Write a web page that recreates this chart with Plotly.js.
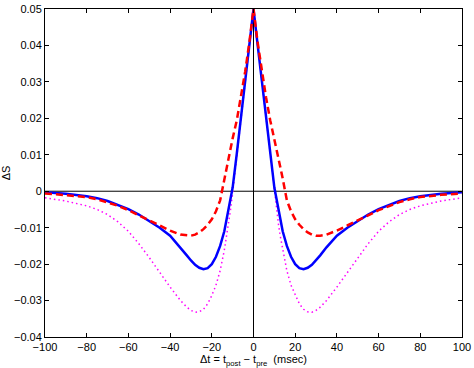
<!DOCTYPE html>
<html>
<head>
<meta charset="utf-8">
<script src="https://cdn.plot.ly/plotly-3.0.1.min.js"></script>
<style>html,body{margin:0;padding:0;background:#fff;}#chart{width:474px;height:368px;}</style>
</head>
<body>
<div id="chart"></div>
<script>
// Time difference (msec)
var dt = [-100,-90,-80,-75,-70,-65,-60,-55,-50,-45,-40,-35,-32,-30,-28,-26,-24,-22,-20,-18,-16,-14,-13,-12,-11,-10,-8,-6,-4,-2,0,
          2,4,6,8,10,11,12,13,14,16,18,20,22,24,26,28,30,32,35,40,45,50,55,60,65,70,75,80,90,100];

// Blue solid curve
var blueS = [-0.0003,-0.0007,-0.0014,-0.0019,-0.0027,-0.0037,-0.0049,-0.0064,-0.0081,-0.0100,-0.0122,-0.0154,-0.0176,-0.0190,-0.0202,-0.0210,-0.0214,-0.0211,-0.0200,-0.0180,-0.0150,-0.0110,-0.0080,-0.0050,-0.0020,0.0010,0.0104,0.0203,0.0302,0.0401,0.0500,
             0.0401,0.0302,0.0203,0.0104,0.0010,-0.0020,-0.0050,-0.0080,-0.0110,-0.0150,-0.0180,-0.0200,-0.0211,-0.0214,-0.0210,-0.0202,-0.0190,-0.0176,-0.0154,-0.0122,-0.0100,-0.0081,-0.0064,-0.0049,-0.0037,-0.0027,-0.0019,-0.0014,-0.0007,-0.0003];

// Red dashed curve
var redS = [-0.0006,-0.0010,-0.0016,-0.0022,-0.0030,-0.0040,-0.0052,-0.0066,-0.0081,-0.0094,-0.0108,-0.0119,-0.0122,-0.0122,-0.0119,-0.0113,-0.0104,-0.0092,-0.0077,-0.0055,-0.0025,0.0035,0.0062,0.0090,0.0117,0.0145,0.0195,0.0258,0.0328,0.0408,0.0500,
            0.0408,0.0328,0.0258,0.0195,0.0145,0.0117,0.0090,0.0062,0.0035,-0.0025,-0.0055,-0.0077,-0.0092,-0.0104,-0.0113,-0.0119,-0.0122,-0.0122,-0.0119,-0.0108,-0.0094,-0.0081,-0.0066,-0.0052,-0.0040,-0.0030,-0.0022,-0.0016,-0.0010,-0.0006];

// Magenta dotted curve
var magS = [-0.0018,-0.0027,-0.0040,-0.0050,-0.0064,-0.0084,-0.0110,-0.0144,-0.0182,-0.0223,-0.0263,-0.0300,-0.0318,-0.0327,-0.0332,-0.0331,-0.0324,-0.0309,-0.0286,-0.0258,-0.0218,-0.0162,-0.0128,-0.0092,-0.0050,-0.0005,0.0100,0.0200,0.0300,0.0400,0.0500,
            0.0400,0.0300,0.0200,0.0100,-0.0005,-0.0050,-0.0092,-0.0128,-0.0162,-0.0218,-0.0258,-0.0286,-0.0309,-0.0324,-0.0331,-0.0332,-0.0327,-0.0318,-0.0300,-0.0263,-0.0223,-0.0182,-0.0144,-0.0110,-0.0084,-0.0064,-0.0050,-0.0040,-0.0027,-0.0018];

var xTicks = [-100,-80,-60,-40,-20,0,20,40,60,80,100];
var yTicks = [-0.04,-0.03,-0.02,-0.01,0,0.01,0.02,0.03,0.04,0.05];
var xTickText = ['\u2212100','\u221280','\u221260','\u221240','\u221220','0','20','40','60','80','100'];
var yTickText = ['\u22120.04','\u22120.03','\u22120.02','\u22120.01','0','0.01','0.02','0.03','0.04','0.05'];

var traces = [
  {x: dt, y: magS, mode: 'lines', line: {color: '#ff00ff', width: 1.5, dash: '1.5px,3px'}, hoverinfo: 'none'},
  {x: dt, y: blueS, mode: 'lines', line: {color: '#0000ff', width: 2.5}, hoverinfo: 'none'},
  {x: dt, y: redS, mode: 'lines', line: {color: '#ff0000', width: 2.5, dash: '7px,4px'}, hoverinfo: 'none'}
];

var axisFont = {family: 'Liberation Sans, Arial, sans-serif', size: 11, color: '#000'};

var layout = {
  width: 474, height: 368,
  margin: {l: 45, r: 12, t: 9, b: 31},
  paper_bgcolor: '#fff', plot_bgcolor: '#fff',
  showlegend: false,
  font: axisFont,
  xaxis: {
    range: [-100, 100], tickmode: 'array', tickvals: xTicks, ticktext: xTickText,
    ticks: 'inside', ticklen: 4, tickcolor: '#000', showline: true, linecolor: '#000', linewidth: 1,
    mirror: 'ticks', showgrid: false, zeroline: false, tickfont: axisFont,
    title: {text: '\u0394t = t<sub>post</sub> \u2212 t<sub>pre</sub>  (msec)', font: axisFont, standoff: 2}
  },
  yaxis: {
    range: [-0.04, 0.05], tickmode: 'array', tickvals: yTicks, ticktext: yTickText,
    ticks: 'inside', ticklen: 4, tickcolor: '#000', showline: true, linecolor: '#000', linewidth: 1,
    mirror: 'ticks', showgrid: false, zeroline: false, tickfont: axisFont,
    title: {text: '\u0394S', font: axisFont, standoff: 4}
  },
  shapes: [
    {type: 'line', xref: 'paper', yref: 'y', x0: 0, x1: 1, y0: 0, y1: 0, line: {color: '#000', width: 1}, layer: 'below'},
    {type: 'line', xref: 'x', yref: 'paper', x0: 0, x1: 0, y0: 0, y1: 1, line: {color: '#000', width: 1}, layer: 'below'}
  ]
};

Plotly.newPlot('chart', traces, layout, {staticPlot: true, displayModeBar: false});
</script>
</body>
</html>
